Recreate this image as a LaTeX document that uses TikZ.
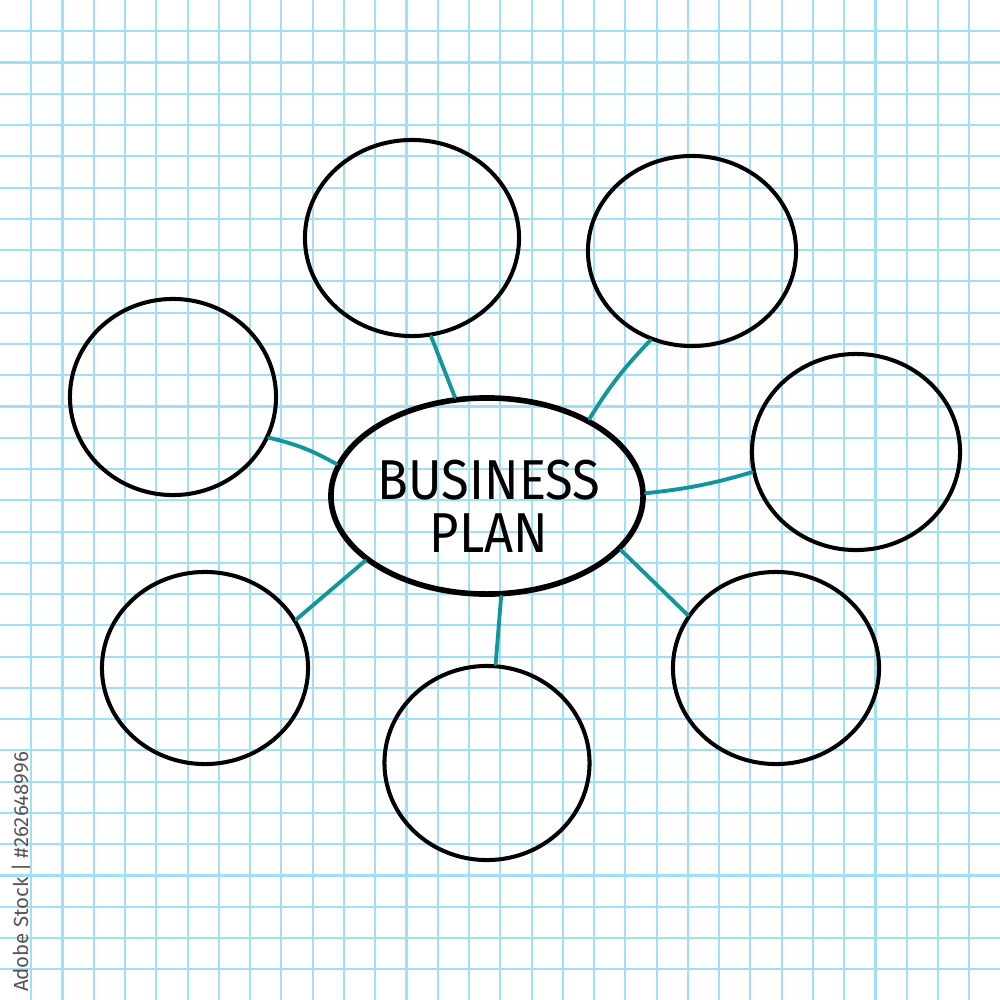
\documentclass[tikz,border=0pt]{standalone}
\usepackage{fontspec}
\setmainfont{Fira Sans}
\newfontfamily\handfont[FakeStretch=0.9]{Fira Sans}
\usetikzlibrary{shapes.geometric}
\definecolor{gridblue}{RGB}{160,224,246}
\definecolor{linkteal}{RGB}{18,150,155}
\definecolor{markgray}{RGB}{85,85,85}

\begin{document}
\begin{tikzpicture}[x=0.01cm, y=-0.01cm,
    bubble/.style={ellipse, draw=black, line width=1.15pt, inner sep=0pt},
    link/.style={draw=linkteal, line width=1.1pt, line cap=round}]
% 背景与方格纸
\useasboundingbox (0,0) rectangle (1000,1000);
\fill[white] (0,0) rectangle (1000,1000);
\foreach \k in {1,...,31} {
    \draw[gridblue, line width=0.6pt] (\k*0.3125cm,0cm) -- (\k*0.3125cm,-10cm);
}
\foreach \k in {1,...,31} {
    \draw[gridblue, line width=0.6pt] (0cm,-\k*0.3125cm) -- (10cm,-\k*0.3125cm);
}

% 中心椭圆和文字
\node[bubble, line width=1.6pt, minimum width=3.12cm, minimum height=1.96cm] (plan) at (487,496) {};
\node[align=center, font=\handfont\fontsize{16}{15}\selectfont] (plantext) at (489,506) {BUSINESS\\PLAN};

% 周围的七个圆圈
\node[bubble, minimum width=2.14cm, minimum height=1.96cm] (top) at (412,238) {};
\node[bubble, minimum width=2.08cm, minimum height=1.90cm] (topright) at (692,251) {};
\node[bubble, minimum width=2.06cm, minimum height=1.96cm] (left) at (173,397) {};
\node[bubble, minimum width=2.08cm, minimum height=1.96cm] (right) at (856,452) {};
\node[bubble, minimum width=2.06cm, minimum height=1.92cm] (bottomleft) at (205,668) {};
\node[bubble, minimum width=2.05cm, minimum height=1.94cm] (bottom) at (487,763) {};
\node[bubble, minimum width=2.06cm, minimum height=1.92cm] (bottomright) at (776,668) {};

% 将中心与七个圆圈连接
\draw[link] (top.-79) -- (plan.108);
\draw[link] (topright.-115) to[bend right=6] (plan.37);
\draw[link] (left.-23) to[bend left=8] (plan.168);
\draw[link] (right.-169) to[bend left=5] (plan.1);
\draw[link] (bottomleft.28) -- (plan.208);
\draw[link] (bottom.85) -- (plan.-82);
\draw[link] (bottomright.149) -- (plan.-22);

% 左侧竖排水印
\node[rotate=90, text=markgray, font=\fontsize{5.8}{7}\selectfont] (stockmark) at (21,872) {Adobe Stock | \#262648996};
\end{tikzpicture}
\end{document}
